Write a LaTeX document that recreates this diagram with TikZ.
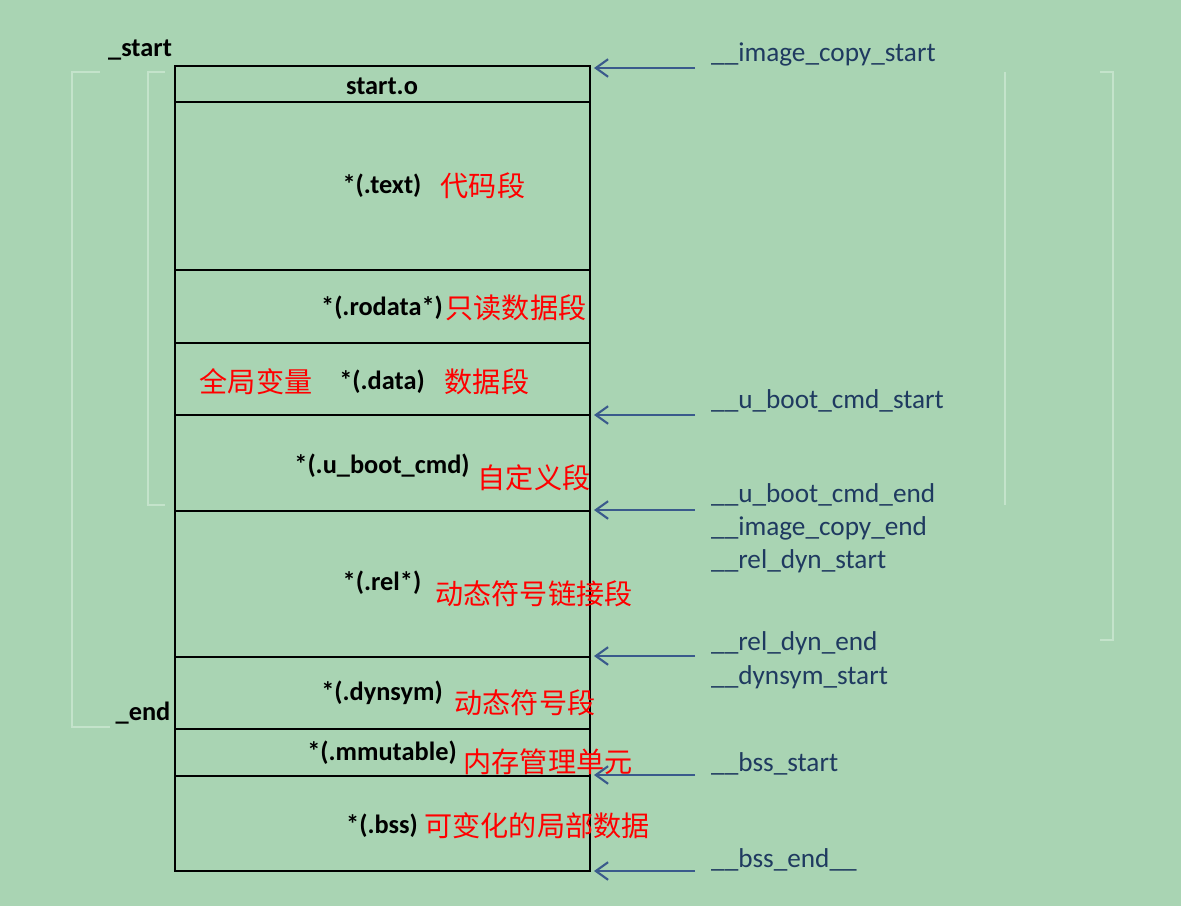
\documentclass[tikz,border=0pt]{standalone}
\usepackage{fontspec}
\usetikzlibrary{arrows.meta}
\setmainfont{Carlito}
\newfontfamily\cjk{Noto Sans CJK SC}
\definecolor{bg}{HTML}{A9D4B3}
\definecolor{faint}{HTML}{C4E3CB}
\definecolor{arr}{HTML}{3A5A8C}
\definecolor{lbl}{HTML}{1F3A60}
\begin{document}
\begin{tikzpicture}[x=0.02cm,y=-0.02cm,
  sec/.style={font=\fontsize{15}{17}\selectfont\bfseries},
  cn/.style={font=\cjk\fontsize{16}{18}\selectfont,text=red},
  rl/.style={font=\fontsize{15.5}{17}\selectfont,text=lbl,anchor=west},
  ptr/.style={draw=arr,line width=1.2pt,-{Straight Barb[length=7pt,width=10pt]}}]
\fill[bg] (0,0) rectangle (1181,906);
\useasboundingbox (0,0) rectangle (1181,906);
% faint background strokes
\draw[faint,line width=1pt] (100,72)--(72,72)--(72,727)--(110,727);
\draw[faint,line width=1pt] (165,72)--(148,72)--(148,505)--(165,505);
\draw[faint,line width=1pt] (1100,72)--(1113,72)--(1113,640)--(1100,640);
\draw[faint,line width=1pt] (1005,72)--(1005,505);
% box
\draw[black,line width=1.2pt] (175,66) rectangle (590,871);
\foreach \y in {102,270,343,415,511,657,729,776} \draw[black,line width=1.2pt] (175,\y)--(590,\y);
% left labels
\node[sec] (st) at (140,50) {\_start};
\node[sec] (en) at (143,713) {\_end};
% sections
\node[sec] (s0) at (382,86) {start.o};
\node[sec] (s1) at (382,186) {*(.text)};
\node[cn] (c1) at (483,186) {代码段};
\node[sec] (s2) at (382,308) {*(.rodata*)};
\node[cn] (c2) at (516,308) {只读数据段};
\node[cn] (c3a) at (256,382) {全局变量};
\node[sec] (s3) at (382,382) {*(.data)};
\node[cn] (c3) at (487,382) {数据段};
\node[sec] (s4) at (382,466) {*(.u\_boot\_cmd)};
\node[cn] (c4) at (534,478) {自定义段};
\node[sec] (s5) at (382,583) {*(.rel*)};
\node[cn] (c5) at (534,594) {动态符号链接段};
\node[sec] (s6) at (382,693) {*(.dynsym)};
\node[cn] (c6) at (525,703) {动态符号段};
\node[sec] (s7) at (382,753) {*(.mmutable)};
\node[cn] (c7) at (548,762) {内存管理单元};
\node[sec] (s8) at (382,826) {*(.bss)};
\node[cn] (c8) at (537,826) {可变化的局部数据};
% right labels
\node[rl] (r1) at (705,54) {\_\_image\_copy\_start};
\node[rl] (r2) at (705,401) {\_\_u\_boot\_cmd\_start};
\node[rl] (r3) at (705,495) {\_\_u\_boot\_cmd\_end};
\node[rl] (r4) at (705,528) {\_\_image\_copy\_end};
\node[rl] (r5) at (705,561) {\_\_rel\_dyn\_start};
\node[rl] (r6) at (705,643) {\_\_rel\_dyn\_end};
\node[rl] (r7) at (705,677) {\_\_dynsym\_start};
\node[rl] (r8) at (705,764) {\_\_bss\_start};
\node[rl] (r9) at (705,860) {\_\_bss\_end\_\_};
% arrows
\foreach \n/\y in {a1/68,a2/415,a3/510,a4/656,a5/775,a6/871}{
  \coordinate (\n s) at (695,\y); \coordinate (\n e) at (594,\y);
  \draw[ptr] (\n s)--(\n e);}
\end{tikzpicture}
\end{document}
